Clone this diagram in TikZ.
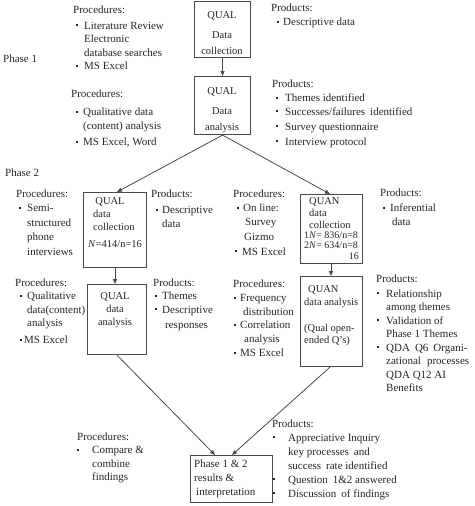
\documentclass[tikz,border=0pt]{standalone}
\usepackage{fontspec}
\setmainfont{Liberation Serif}
\usetikzlibrary{arrows.meta}
\definecolor{linegray}{HTML}{4A4A4A}
\definecolor{textgray}{HTML}{262626}
\newcommand\mybul[1]{\makebox[#1][l]{\rule[2.6pt]{2.2pt}{2.2pt}}}
\newcommand\blk[1]{\begin{tabular}[t]{@{}l@{}}#1\end{tabular}}
\begin{document}
\begin{tikzpicture}[x=1pt,y=-1pt,
  box/.style={draw=linegray, line width=1.1pt, inner sep=0pt, anchor=north west},
  txt/.style={anchor=base west, inner sep=0pt, font=\fontsize{11}{13.5}\selectfont, text=textgray},
  btxt/.style={anchor=base west, inner sep=0pt, font=\fontsize{10.5}{12.5}\selectfont, text=textgray},
  ctxt/.style={anchor=base, inner sep=0pt, font=\fontsize{10.5}{12.5}\selectfont, text=textgray},
  arr/.style={draw=linegray, line width=0.8pt, -{Triangle[length=5pt,width=4pt]}}]
\useasboundingbox[fill=white] (0,0) rectangle (474,506);

% boxes
\node[box, minimum width=56pt, minimum height=56pt] (b1) at (194,0.8) {};
\node[box, minimum width=56pt, minimum height=58pt] (b2) at (194,76) {};
\node[box, minimum width=63pt, minimum height=75pt] (b3) at (83,192) {};
\node[box, minimum width=59pt, minimum height=70pt] (b4) at (87,284) {};
\node[box, minimum width=62pt, minimum height=69pt] (b5) at (300,194) {};
\node[box, minimum width=62pt, minimum height=90pt] (b6) at (300,276) {};
\node[box, minimum width=82pt, minimum height=47pt] (b7) at (190,455) {};

% box texts
\node[ctxt] (t1a) at (222,18) {QUAL};
\node[ctxt] (t1b) at (222,38) {Data};
\node[ctxt] (t1c) at (222,54) {collection};
\node[ctxt] (t2a) at (222,94) {QUAL};
\node[ctxt] (t2b) at (222,114) {Data};
\node[ctxt] (t2c) at (222,130) {analysis};

\node[ctxt] (t3a) at (110,204) {QUAL};
\node[btxt] (t3b) at (93,217) {data};
\node[btxt] (t3c) at (93,230) {collection};
\node[btxt] (t3d) at (88,247) {\textit{N}=414/n=16};

\node[ctxt] (t4a) at (115,299) {QUAL};
\node[ctxt] (t4b) at (115,312) {data};
\node[ctxt] (t4c) at (115,325) {analysis};

\node[btxt] (t5a) at (309,204) {QUAN};
\node[btxt] (t5b) at (309,216) {data};
\node[btxt] (t5c) at (309,228) {collection};
\node[btxt, font=\fontsize{10}{12}\selectfont] (t5d) at (304,238) {1\textit{N}= 836/n=8};
\node[btxt, font=\fontsize{10}{12}\selectfont] (t5e) at (304,248) {2\textit{N}= 634/n=8};
\node[btxt, anchor=base east, font=\fontsize{10}{12}\selectfont] (t5f) at (359,259) {16};

\node[btxt] (t6a) at (308,292) {QUAN};
\node[btxt] (t6b) at (304,305) {data analysis};
\node[btxt] (t6c) at (304,331) {(Qual open-};
\node[btxt] (t6d) at (304,343) {ended Q's)};

\node[btxt, font=\fontsize{11}{13.5}\selectfont] (t7a) at (194,467) {Phase 1 \& 2};
\node[btxt, font=\fontsize{11}{13.5}\selectfont] (t7b) at (194,481) {results \&};
\node[btxt, font=\fontsize{11}{13.5}\selectfont] (t7c) at (196,495) {interpretation};

% phase labels
\node[txt] (ph1) at (3,62) {Phase 1};
\node[txt] (ph2) at (5,176) {Phase 2};

% procedures / products
\node[txt] (p1) at (73,13) {\blk{Procedures:\\[2.5pt]
\hspace*{3pt}\mybul{8pt}Literature Review\\
\hspace*{11pt}Electronic\\
\hspace*{11pt}database searches\\
\hspace*{3pt}\mybul{8pt}MS Excel}};

\node[txt] (r1) at (271,12) {\blk{Products:\\
\hspace*{6pt}\mybul{6pt}Descriptive data}};

\node[txt] (p2) at (71,97) {\blk{Procedures:\\[5pt]
\hspace*{5pt}\mybul{7pt}Qualitative data\\
\hspace*{12pt}(content) analysis\\[3pt]
\hspace*{5pt}\mybul{7pt}MS Excel, Word}};

\node[txt] (r2) at (272,87) {\blk{Products:\\[1pt]
\hspace*{4pt}\mybul{9pt}Themes identified\\
\hspace*{4pt}\mybul{9pt}Successes/failures\hspace{5pt}identified\\[1.5pt]
\hspace*{4pt}\mybul{9pt}Survey questionnaire\\[1.5pt]
\hspace*{4pt}\mybul{9pt}Interview protocol}};

\node[txt, font=\fontsize{11}{14.5}\selectfont] (p3) at (16,197) {\blk{Procedures:\\
\hspace*{3pt}\mybul{8pt}Semi-\\
\hspace*{11pt}structured\\
\hspace*{11pt}phone\\
\hspace*{11pt}interviews}};

\node[txt] (r3) at (151,197) {\blk{Products:\\[3pt]
\hspace*{5pt}\mybul{6pt}Descriptive\\
\hspace*{11pt}data}};

\node[txt] (p4) at (15,286) {\blk{Procedures:\\
\hspace*{5pt}\mybul{7pt}Qualitative\\
\hspace*{12pt}data(content)\\
\hspace*{12pt}analysis\\[3.5pt]
\hspace*{5pt}\mybul{4pt}MS Excel}};

\node[txt] (r4) at (153,286) {\blk{Products:\\
\hspace*{2pt}\mybul{7pt}Themes\\
\hspace*{2pt}\mybul{7pt}Descriptive\\[1.5pt]
\hspace*{12pt}responses}};

\node[txt] (p5) at (233,197) {\blk{Procedures:\\[1pt]
\hspace*{4pt}\mybul{6pt}On line:\\
\hspace*{12pt}Survey\\[1.5pt]
\hspace*{11pt}Gizmo\\[1.5pt]
\hspace*{2pt}\mybul{7pt}MS Excel}};

\node[txt] (r5) at (380,196) {\blk{Products:\\[2pt]
\hspace*{3pt}\mybul{7pt}Inferential\\
\hspace*{12pt}data}};

\node[txt] (p6) at (233,287) {\blk{Procedures:\\[1pt]
\hspace*{1pt}\mybul{6pt}Frequency\\
\hspace*{10pt}distribution\\
\hspace*{1pt}\mybul{6pt}Correlation\\
\hspace*{11pt}analysis\\[1pt]
\hspace*{1pt}\mybul{6pt}MS Excel}};

\node[txt] (r6) at (376,282) {\blk{Products:\\[1.5pt]
\hspace*{1pt}\mybul{9pt}Relationship\\
\hspace*{10pt}among themes\\
\hspace*{1pt}\mybul{9pt}Validation of\\
\hspace*{10pt}Phase 1 Themes\\
\hspace*{1pt}\mybul{9pt}QDA\hspace{5pt}Q6\hspace{5pt}Organi-\\
\hspace*{10pt}zational\hspace{6pt}processes\\
\hspace*{10pt}QDA Q12 AI\\
\hspace*{10pt}Benefits}};

\node[txt] (p7) at (77,440) {\blk{Procedures:\\
\mybul{15pt}Compare \&\\
\hspace*{15pt}combine\\
\hspace*{15pt}findings}};

\node[txt, font=\fontsize{11}{14}\selectfont] (r7) at (272,427) {\blk{Products:\\
\hspace*{1pt}\mybul{15pt}Appreciative Inquiry\\
\hspace*{16pt}key processes\hspace{5pt}and\\
\hspace*{16pt}success\hspace{5pt}rate identified\\
\hspace*{1pt}\mybul{15pt}Question\hspace{5pt}1\&2 answered\\
\hspace*{1pt}\mybul{15pt}Discussion\hspace{5pt}of findings}};

% connectors
\draw[arr] (b1.south) -- (b2.north);
\draw[arr] (b2.south) -- ([xshift=34pt]b3.north west);
\draw[arr] (b2.south) -- ([xshift=30pt]b5.north west);
\draw[arr] ([xshift=32pt]b3.south west) -- ([xshift=28pt]b4.north west);
\draw[arr] ([xshift=31pt]b5.south west) -- ([xshift=31pt]b6.north west);
\draw[arr] ([xshift=30pt]b4.south west) -- ([xshift=25pt]b7.north west);
\draw[arr] ([xshift=30pt]b6.south west) -- ([xshift=42pt]b7.north west);
\end{tikzpicture}
\end{document}
